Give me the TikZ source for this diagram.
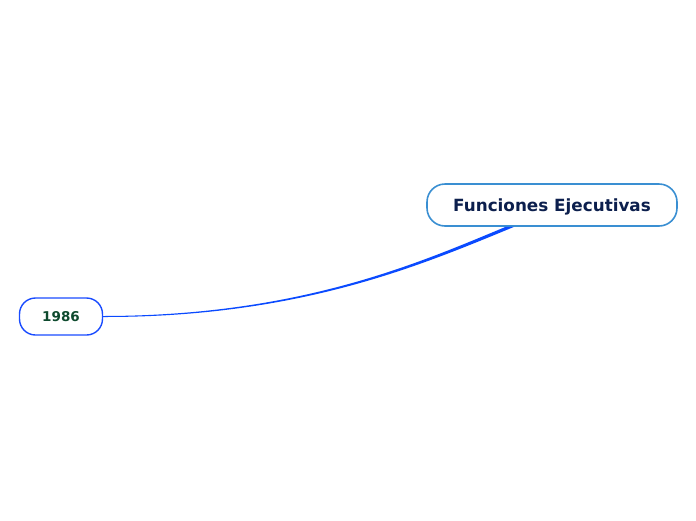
\documentclass[tikz,border=0pt]{standalone}
\usepackage{fontspec}
\setmainfont{DejaVu Sans}
\usetikzlibrary{calc, positioning}
\definecolor{mainedge}{HTML}{3A8FD2}
\definecolor{maintext}{HTML}{0C1F4D}
\definecolor{subedge}{HTML}{1A4CFF}
\definecolor{subtext}{HTML}{0E4A2E}
\definecolor{linkblue}{HTML}{0A4AFF}

\begin{document}
\begin{tikzpicture}[x=1pt,y=-1pt,
  topic/.style={draw=mainedge,line width=1.6pt,rounded corners=18pt,fill=white,minimum width=250pt,minimum height=42pt,text depth=0pt,text=maintext,font=\fontsize{16.8}{20}\selectfont\bfseries},
  subtopic/.style={draw=subedge,line width=1.4pt,rounded corners=16pt,fill=white,minimum width=83pt,minimum height=37pt,text=subtext,font=\fontsize{13.5}{16}\selectfont\bfseries}]
  \useasboundingbox (0,0) rectangle (696,520); %枠
  \node[topic] (fe) at (552,205) {Funciones Ejecutivas}; %中心
  \node[subtopic] (y1986) at (61,316.5) {1986}; %枝
  \coordinate (fe-foot) at ($(fe.south)+(-42,0)$);
  \fill[linkblue] ($(y1986.east)+(0,0.5)$) .. controls (300,317.2) and (420.6,265.4) .. ($(fe-foot)+(4.2,0)$)
    -- ($(fe-foot)+(-4.2,0)$) .. controls (419.4,262.6) and (300,315.8) .. ($(y1986.east)+(0,-0.5)$) -- cycle; %線
\end{tikzpicture}
\end{document}
